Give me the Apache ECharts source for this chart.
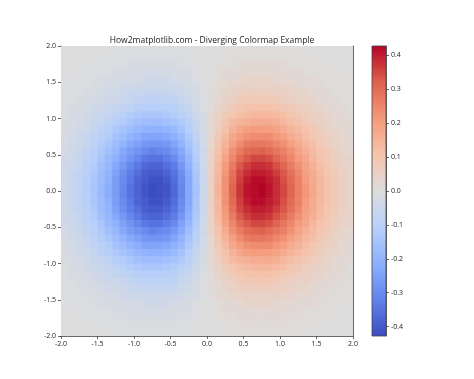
<!DOCTYPE html>
<html>
<head>
<meta charset="utf-8">
<script src="https://cdn.jsdelivr.net/npm/echarts@6/dist/echarts.min.js"></script>
<style>html,body{margin:0;padding:0;background:#fff;}#c{width:474px;height:379px;}</style>
</head>
<body>
<div id="c"></div>
<script>
// cell centres (x from left to right, y from top to bottom)
const xCenters = [-1.95,-1.85,-1.75,-1.65,-1.55,-1.45,-1.35,-1.25,-1.15,-1.05,-0.95,-0.85,-0.75,-0.65,-0.55,-0.45,-0.35,-0.25,-0.15,-0.05,
                  0.05,0.15,0.25,0.35,0.45,0.55,0.65,0.75,0.85,0.95,1.05,1.15,1.25,1.35,1.45,1.55,1.65,1.75,1.85,1.95];
const yCenters = [1.95,1.85,1.75,1.65,1.55,1.45,1.35,1.25,1.15,1.05,0.95,0.85,0.75,0.65,0.55,0.45,0.35,0.25,0.15,0.05,
                  -0.05,-0.15,-0.25,-0.35,-0.45,-0.55,-0.65,-0.75,-0.85,-0.95,-1.05,-1.15,-1.25,-1.35,-1.45,-1.55,-1.65,-1.75,-1.85,-1.95];
// values, one row per yCenter, one value per xCenter
const zRows = [
[0,0,0,0,0,0,0,-.01,-.01,-.01,-.01,-.01,-.01,-.01,-.01,-.01,-.01,-.01,0,0, 0,0,.01,.01,.01,.01,.01,.01,.01,.01,.01,.01,.01,0,0,0,0,0,0,0],
[0,0,0,0,0,-.01,-.01,-.01,-.01,-.01,-.01,-.01,-.01,-.01,-.01,-.01,-.01,-.01,0,0, 0,0,.01,.01,.01,.01,.01,.01,.01,.01,.01,.01,.01,.01,.01,0,0,0,0,0],
[0,0,0,-.01,-.01,-.01,-.01,-.01,-.01,-.02,-.02,-.02,-.02,-.02,-.02,-.02,-.01,-.01,-.01,0, 0,.01,.01,.01,.02,.02,.02,.02,.02,.02,.02,.01,.01,.01,.01,.01,.01,0,0,0],
[0,0,-.01,-.01,-.01,-.01,-.01,-.02,-.02,-.02,-.03,-.03,-.03,-.03,-.03,-.02,-.02,-.02,-.01,0, 0,.01,.02,.02,.02,.03,.03,.03,.03,.03,.02,.02,.02,.01,.01,.01,.01,.01,0,0],
[0,-.01,-.01,-.01,-.01,-.02,-.02,-.02,-.03,-.03,-.03,-.04,-.04,-.04,-.04,-.03,-.03,-.02,-.01,0, 0,.01,.02,.03,.03,.04,.04,.04,.04,.03,.03,.03,.02,.02,.02,.01,.01,.01,.01,0],
[-.01,-.01,-.01,-.01,-.02,-.02,-.03,-.03,-.04,-.04,-.05,-.05,-.05,-.05,-.05,-.04,-.04,-.03,-.02,-.01, .01,.02,.03,.04,.04,.05,.05,.05,.05,.05,.04,.04,.03,.03,.02,.02,.01,.01,.01,.01],
[-.01,-.01,-.01,-.02,-.02,-.03,-.04,-.04,-.05,-.06,-.06,-.07,-.07,-.07,-.07,-.06,-.05,-.04,-.02,-.01, .01,.02,.04,.05,.06,.07,.07,.07,.07,.06,.06,.05,.04,.04,.03,.02,.02,.01,.01,.01],
[-.01,-.01,-.02,-.02,-.03,-.04,-.05,-.05,-.06,-.07,-.08,-.09,-.09,-.09,-.09,-.08,-.06,-.05,-.03,-.01, .01,.03,.05,.06,.08,.09,.09,.09,.09,.08,.07,.06,.05,.05,.04,.03,.02,.02,.01,.01],
[-.01,-.02,-.02,-.03,-.04,-.05,-.06,-.07,-.08,-.09,-.10,-.11,-.11,-.11,-.11,-.10,-.08,-.06,-.04,-.01, .01,.04,.06,.08,.10,.11,.11,.11,.11,.10,.09,.08,.07,.06,.05,.04,.03,.02,.02,.01],
[-.01,-.02,-.03,-.04,-.05,-.06,-.07,-.09,-.10,-.12,-.13,-.14,-.14,-.14,-.13,-.12,-.10,-.08,-.05,-.02, .02,.05,.08,.10,.12,.13,.14,.14,.14,.13,.12,.10,.09,.07,.06,.05,.04,.03,.02,.01],
[-.02,-.02,-.03,-.04,-.06,-.07,-.09,-.11,-.12,-.14,-.16,-.17,-.17,-.17,-.16,-.15,-.13,-.10,-.06,-.02, .02,.06,.10,.13,.15,.16,.17,.17,.17,.16,.14,.12,.11,.09,.07,.06,.04,.03,.02,.02],
[-.02,-.03,-.04,-.05,-.07,-.09,-.11,-.13,-.15,-.17,-.19,-.20,-.21,-.21,-.20,-.18,-.15,-.11,-.07,-.02, .02,.07,.11,.15,.18,.20,.21,.21,.20,.19,.17,.15,.13,.11,.09,.07,.05,.04,.03,.02],
[-.02,-.03,-.05,-.06,-.08,-.10,-.12,-.15,-.17,-.20,-.22,-.24,-.24,-.24,-.23,-.21,-.18,-.13,-.08,-.03, .03,.08,.13,.18,.21,.23,.24,.24,.24,.22,.20,.17,.15,.12,.10,.08,.06,.05,.03,.02],
[-.03,-.04,-.05,-.07,-.09,-.12,-.14,-.17,-.20,-.23,-.25,-.27,-.28,-.28,-.27,-.24,-.20,-.15,-.10,-.03, .03,.10,.15,.20,.24,.27,.28,.28,.27,.25,.23,.20,.17,.14,.12,.09,.07,.05,.04,.03],
[-.03,-.04,-.06,-.08,-.10,-.13,-.16,-.19,-.23,-.26,-.28,-.30,-.32,-.31,-.30,-.27,-.23,-.17,-.11,-.04, .04,.11,.17,.23,.27,.30,.31,.32,.30,.28,.26,.23,.19,.16,.13,.10,.08,.06,.04,.03],
[-.04,-.05,-.07,-.09,-.11,-.14,-.18,-.21,-.25,-.28,-.31,-.34,-.35,-.35,-.33,-.30,-.25,-.19,-.12,-.04, .04,.12,.19,.25,.30,.33,.35,.35,.34,.31,.28,.25,.21,.18,.14,.11,.09,.07,.05,.04],
[-.04,-.05,-.07,-.10,-.12,-.16,-.19,-.23,-.27,-.31,-.34,-.37,-.38,-.38,-.36,-.33,-.27,-.21,-.13,-.04, .04,.13,.21,.27,.33,.36,.38,.38,.37,.34,.31,.27,.23,.19,.16,.12,.10,.07,.05,.04],
[-.04,-.06,-.08,-.10,-.13,-.17,-.20,-.25,-.29,-.33,-.36,-.39,-.40,-.40,-.38,-.35,-.29,-.22,-.14,-.05, .05,.14,.22,.29,.35,.38,.40,.40,.39,.36,.33,.29,.25,.20,.17,.13,.10,.08,.06,.04],
[-.04,-.06,-.08,-.11,-.14,-.17,-.21,-.26,-.30,-.34,-.38,-.40,-.42,-.42,-.40,-.36,-.30,-.23,-.14,-.05, .05,.14,.23,.30,.36,.40,.42,.42,.40,.38,.34,.30,.26,.21,.17,.14,.11,.08,.06,.04],
[-.04,-.06,-.08,-.11,-.14,-.18,-.22,-.26,-.31,-.35,-.38,-.41,-.43,-.42,-.41,-.37,-.31,-.23,-.15,-.05, .05,.15,.23,.31,.37,.41,.42,.43,.41,.38,.35,.31,.26,.22,.18,.14,.11,.08,.06,.04],
[-.04,-.06,-.08,-.11,-.14,-.18,-.22,-.26,-.31,-.35,-.38,-.41,-.43,-.42,-.41,-.37,-.31,-.23,-.15,-.05, .05,.15,.23,.31,.37,.41,.42,.43,.41,.38,.35,.31,.26,.22,.18,.14,.11,.08,.06,.04],
[-.04,-.06,-.08,-.11,-.14,-.17,-.21,-.26,-.30,-.34,-.38,-.40,-.42,-.42,-.40,-.36,-.30,-.23,-.14,-.05, .05,.14,.23,.30,.36,.40,.42,.42,.40,.38,.34,.30,.26,.21,.17,.14,.11,.08,.06,.04],
[-.04,-.06,-.08,-.10,-.13,-.17,-.20,-.25,-.29,-.33,-.36,-.39,-.40,-.40,-.38,-.35,-.29,-.22,-.14,-.05, .05,.14,.22,.29,.35,.38,.40,.40,.39,.36,.33,.29,.25,.20,.17,.13,.10,.08,.06,.04],
[-.04,-.05,-.07,-.10,-.12,-.16,-.19,-.23,-.27,-.31,-.34,-.37,-.38,-.38,-.36,-.33,-.27,-.21,-.13,-.04, .04,.13,.21,.27,.33,.36,.38,.38,.37,.34,.31,.27,.23,.19,.16,.12,.10,.07,.05,.04],
[-.04,-.05,-.07,-.09,-.11,-.14,-.18,-.21,-.25,-.28,-.31,-.34,-.35,-.35,-.33,-.30,-.25,-.19,-.12,-.04, .04,.12,.19,.25,.30,.33,.35,.35,.34,.31,.28,.25,.21,.18,.14,.11,.09,.07,.05,.04],
[-.03,-.04,-.06,-.08,-.10,-.13,-.16,-.19,-.23,-.26,-.28,-.30,-.32,-.31,-.30,-.27,-.23,-.17,-.11,-.04, .04,.11,.17,.23,.27,.30,.31,.32,.30,.28,.26,.23,.19,.16,.13,.10,.08,.06,.04,.03],
[-.03,-.04,-.05,-.07,-.09,-.12,-.14,-.17,-.20,-.23,-.25,-.27,-.28,-.28,-.27,-.24,-.20,-.15,-.10,-.03, .03,.10,.15,.20,.24,.27,.28,.28,.27,.25,.23,.20,.17,.14,.12,.09,.07,.05,.04,.03],
[-.02,-.03,-.05,-.06,-.08,-.10,-.12,-.15,-.17,-.20,-.22,-.24,-.24,-.24,-.23,-.21,-.18,-.13,-.08,-.03, .03,.08,.13,.18,.21,.23,.24,.24,.24,.22,.20,.17,.15,.12,.10,.08,.06,.05,.03,.02],
[-.02,-.03,-.04,-.05,-.07,-.09,-.11,-.13,-.15,-.17,-.19,-.20,-.21,-.21,-.20,-.18,-.15,-.11,-.07,-.02, .02,.07,.11,.15,.18,.20,.21,.21,.20,.19,.17,.15,.13,.11,.09,.07,.05,.04,.03,.02],
[-.02,-.02,-.03,-.04,-.06,-.07,-.09,-.11,-.12,-.14,-.16,-.17,-.17,-.17,-.16,-.15,-.13,-.10,-.06,-.02, .02,.06,.10,.13,.15,.16,.17,.17,.17,.16,.14,.12,.11,.09,.07,.06,.04,.03,.02,.02],
[-.01,-.02,-.03,-.04,-.05,-.06,-.07,-.09,-.10,-.12,-.13,-.14,-.14,-.14,-.13,-.12,-.10,-.08,-.05,-.02, .02,.05,.08,.10,.12,.13,.14,.14,.14,.13,.12,.10,.09,.07,.06,.05,.04,.03,.02,.01],
[-.01,-.02,-.02,-.03,-.04,-.05,-.06,-.07,-.08,-.09,-.10,-.11,-.11,-.11,-.11,-.10,-.08,-.06,-.04,-.01, .01,.04,.06,.08,.10,.11,.11,.11,.11,.10,.09,.08,.07,.06,.05,.04,.03,.02,.02,.01],
[-.01,-.01,-.02,-.02,-.03,-.04,-.05,-.05,-.06,-.07,-.08,-.09,-.09,-.09,-.09,-.08,-.06,-.05,-.03,-.01, .01,.03,.05,.06,.08,.09,.09,.09,.09,.08,.07,.06,.05,.05,.04,.03,.02,.02,.01,.01],
[-.01,-.01,-.01,-.02,-.02,-.03,-.04,-.04,-.05,-.06,-.06,-.07,-.07,-.07,-.07,-.06,-.05,-.04,-.02,-.01, .01,.02,.04,.05,.06,.07,.07,.07,.07,.06,.06,.05,.04,.04,.03,.02,.02,.01,.01,.01],
[-.01,-.01,-.01,-.01,-.02,-.02,-.03,-.03,-.04,-.04,-.05,-.05,-.05,-.05,-.05,-.04,-.04,-.03,-.02,-.01, .01,.02,.03,.04,.04,.05,.05,.05,.05,.05,.04,.04,.03,.03,.02,.02,.01,.01,.01,.01],
[0,-.01,-.01,-.01,-.01,-.02,-.02,-.02,-.03,-.03,-.03,-.04,-.04,-.04,-.04,-.03,-.03,-.02,-.01,0, 0,.01,.02,.03,.03,.04,.04,.04,.04,.03,.03,.03,.02,.02,.02,.01,.01,.01,.01,0],
[0,0,-.01,-.01,-.01,-.01,-.01,-.02,-.02,-.02,-.03,-.03,-.03,-.03,-.03,-.02,-.02,-.02,-.01,0, 0,.01,.02,.02,.02,.03,.03,.03,.03,.03,.02,.02,.02,.01,.01,.01,.01,.01,0,0],
[0,0,0,-.01,-.01,-.01,-.01,-.01,-.01,-.02,-.02,-.02,-.02,-.02,-.02,-.02,-.01,-.01,-.01,0, 0,.01,.01,.01,.02,.02,.02,.02,.02,.02,.02,.01,.01,.01,.01,.01,.01,0,0,0],
[0,0,0,0,0,-.01,-.01,-.01,-.01,-.01,-.01,-.01,-.01,-.01,-.01,-.01,-.01,-.01,0,0, 0,0,.01,.01,.01,.01,.01,.01,.01,.01,.01,.01,.01,.01,.01,0,0,0,0,0],
[0,0,0,0,0,0,0,-.01,-.01,-.01,-.01,-.01,-.01,-.01,-.01,-.01,-.01,-.01,0,0, 0,0,.01,.01,.01,.01,.01,.01,.01,.01,.01,.01,.01,0,0,0,0,0,0,0]
];
const cellStep = 0.1;
const zMin = -0.428, zMax = 0.428;
const colorbarTicks = [0.4,0.3,0.2,0.1,0.0,-0.1,-0.2,-0.3,-0.4];
const coolwarm = ['#3b4cc0','#6282ea','#8db0fe','#b8d0f9','#dddddd','#f5c4ad','#f49a7b','#de604d','#b40426'];
const titleText = 'How2matplotlib.com - Diverging Colormap Example';

const cells = [];
yCenters.forEach((y, i) => xCenters.forEach((x, j) => cells.push([x, y, zRows[i][j]])));

const font = 'Open Sans';
const labelStyle = {fontSize: 7, color: '#222', fontFamily: font};
const axisLineStyle = {color: '#444', width: 0.8};

const chart = echarts.init(document.getElementById('c'), null, {renderer: 'canvas'});
chart.setOption({
  animation: false,
  backgroundColor: '#fff',
  title: {text: titleText, left: 207, top: 31, textAlign: 'center',
    textStyle: {fontSize: 8.5, fontWeight: 'normal', color: '#222', fontFamily: font}},
  grid: [
    {left: 61, top: 46, width: 292, height: 290},
    {left: 372, top: 46, width: 14, height: 290}
  ],
  xAxis: [
    {type: 'value', gridIndex: 0, min: -2, max: 2, interval: 0.5, position: 'bottom',
     axisLine: {show: true, onZero: false, lineStyle: axisLineStyle},
     axisTick: {show: true, length: 3, lineStyle: axisLineStyle},
     splitLine: {show: false},
     axisLabel: Object.assign({margin: 4, formatter: v => v.toFixed(1)}, labelStyle)},
    {type: 'value', gridIndex: 0, min: -2, max: 2, position: 'top',
     axisLine: {show: true, onZero: false, lineStyle: axisLineStyle},
     axisTick: {show: false}, axisLabel: {show: false}, splitLine: {show: false}},
    {type: 'value', gridIndex: 1, min: 0, max: 1, show: false}
  ],
  yAxis: [
    {type: 'value', gridIndex: 0, min: -2, max: 2, interval: 0.5, position: 'left',
     axisLine: {show: true, onZero: false, lineStyle: axisLineStyle},
     axisTick: {show: true, length: 3, lineStyle: axisLineStyle},
     splitLine: {show: false},
     axisLabel: Object.assign({margin: 5, formatter: v => v.toFixed(1)}, labelStyle)},
    {type: 'value', gridIndex: 0, min: -2, max: 2, position: 'right',
     axisLine: {show: true, onZero: false, lineStyle: axisLineStyle},
     axisTick: {show: false}, axisLabel: {show: false}, splitLine: {show: false}},
    {type: 'value', gridIndex: 1, min: zMin, max: zMax, position: 'right',
     axisLine: {show: true, onZero: false, lineStyle: axisLineStyle},
     axisTick: {show: true, length: 3, lineStyle: axisLineStyle,
       customValues: colorbarTicks},
     axisLabel: Object.assign({margin: 5, formatter: v => v.toFixed(1), customValues: colorbarTicks}, labelStyle),
     splitLine: {show: false}}
  ],
  visualMap: {
    type: 'continuous', show: false, min: zMin, max: zMax, dimension: 2, seriesIndex: 0,
    inRange: {color: coolwarm}
  },
  series: [
    {
      type: 'custom', xAxisIndex: 0, yAxisIndex: 0, clip: true,
      data: cells,
      encode: {x: 0, y: 1},
      renderItem: function (params, api) {
        const x = api.value(0), y = api.value(1), h = cellStep / 2;
        const p1 = api.coord([x - h, y + h]);
        const p2 = api.coord([x + h, y - h]);
        return {type: 'rect',
          shape: {x: p1[0], y: p1[1], width: p2[0] - p1[0] + 0.6, height: p2[1] - p1[1] + 0.6},
          style: {fill: api.visual('color')}};
      }
    },
    {
      type: 'custom', xAxisIndex: 2, yAxisIndex: 2,
      data: [[0, zMin, zMax]],
      renderItem: function (params, api) {
        const p1 = api.coord([0, api.value(2)]);
        const p2 = api.coord([1, api.value(1)]);
        const stops = coolwarm.slice().reverse().map((c, i, a) => ({offset: i / (a.length - 1), color: c}));
        return {type: 'rect',
          shape: {x: p1[0], y: p1[1], width: p2[0] - p1[0], height: p2[1] - p1[1]},
          style: {fill: new echarts.graphic.LinearGradient(0, 0, 0, 1, stops), stroke: '#444', lineWidth: 0.8}};
      }
    }
  ]
});
</script>
</body>
</html>
